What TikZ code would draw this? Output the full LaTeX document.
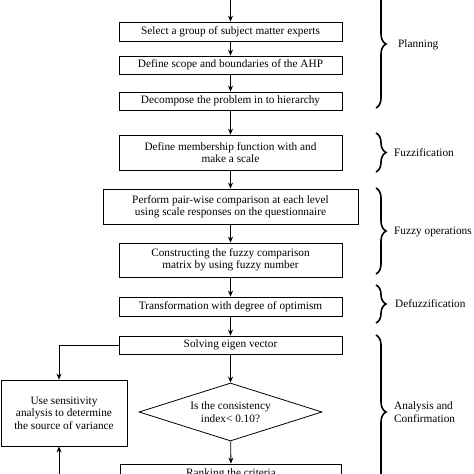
\documentclass[tikz,border=0pt]{standalone}
\usepackage{fontspec}
\setmainfont{Liberation Serif}
\usetikzlibrary{shapes.geometric,arrows.meta,decorations.pathreplacing}
\begin{document}
\begin{tikzpicture}[x=1pt,y=-1pt,
  font=\fontsize{11.3}{12.4}\selectfont,
  box/.style={draw,line width=0.8pt,minimum width=223pt,inner sep=0pt,align=center},
  arr/.style={line width=0.8pt,-{Stealth[length=6pt,width=5pt]}},
  brc/.style={line width=1.6pt,decorate,decoration={brace,amplitude=10pt,aspect=#1}},
  lbl/.style={anchor=west,align=left,inner sep=0pt}]
\useasboundingbox (0,0) rectangle (474,474);
\clip (0,0) rectangle (474,474);
% main column
\node[box,minimum height=19pt] (b1) at (230.5,31.5) {Select a group of subject matter experts};
\node[box,minimum height=18pt] (b2) at (230.5,65) {Define scope and boundaries of the AHP};
\node[box,minimum height=18pt] (b3) at (230.5,101) {Decompose the problem in to hierarchy};
\node[box,minimum height=35pt] (b4) at (230.5,152.5) {Define membership function with and\\make a scale};
\node[box,minimum height=35pt,minimum width=255pt] (b5) at (230.5,206.5) {Perform pair-wise comparison at each level\\using scale responses on the questionnaire};
\node[box,minimum height=34pt] (b6) at (230.5,260) {Constructing the fuzzy comparison\\matrix by using fuzzy number};
\node[box,minimum height=19pt] (b7) at (230.5,306.5) {Transformation with degree of optimism};
\node[box,minimum height=18pt] (b8) at (230.5,345) {Solving eigen vector};
\node[draw,line width=0.8pt,diamond,aspect=3.16,minimum width=183pt,minimum height=58pt,inner sep=0pt,align=center] (d) at (230.5,412) {Is the consistency\\index< 0.10?};
\node[box,minimum height=66pt,minimum width=126pt] (b9) at (64,413) {Use sensitivity\\analysis to determine\\the source of variance};
\node[box,minimum height=19pt,minimum width=221pt] (b10) at (231,473.5) {Ranking the criteria};
\coordinate (top) at (230.5,-5);
\coordinate (bot) at (59,485);
% arrows
\draw[arr] (top) -- (b1);
\draw[arr] (b1) -- (b2);
\draw[arr] (b2) -- (b3);
\draw[arr] (b3) -- (b4);
\draw[arr] (b4) -- (b5);
\draw[arr] (b5) -- (b6);
\draw[arr] (b6) -- (b7);
\draw[arr] (b7) -- (b8);
\draw[arr] (b8) -- (d);
\draw[arr] (d) -- (b10);
\draw[arr] (b8.west) -| ([xshift=-5pt]b9.north);
\draw[arr] (bot) -- (bot |- b9.south);
% braces
\draw[brc=0.5] (376,-20) -- (376,108);
\draw[brc=0.5] (376,133) -- (376,172);
\draw[brc=0.5] (376,188) -- (376,274);
\draw[brc=0.5] (376,285) -- (376,323);
\draw[brc=0.5] (376,335) -- (376,489);
\node[lbl] (l1) at (398,45) {Planning};
\node[lbl] (l2) at (394,153) {Fuzzification};
\node[lbl] (l3) at (394,232) {Fuzzy operations};
\node[lbl] (l4) at (395,304) {Defuzzification};
\node[lbl] (l5) at (394,412) {Analysis and\\Confirmation};
\end{tikzpicture}
\end{document}
